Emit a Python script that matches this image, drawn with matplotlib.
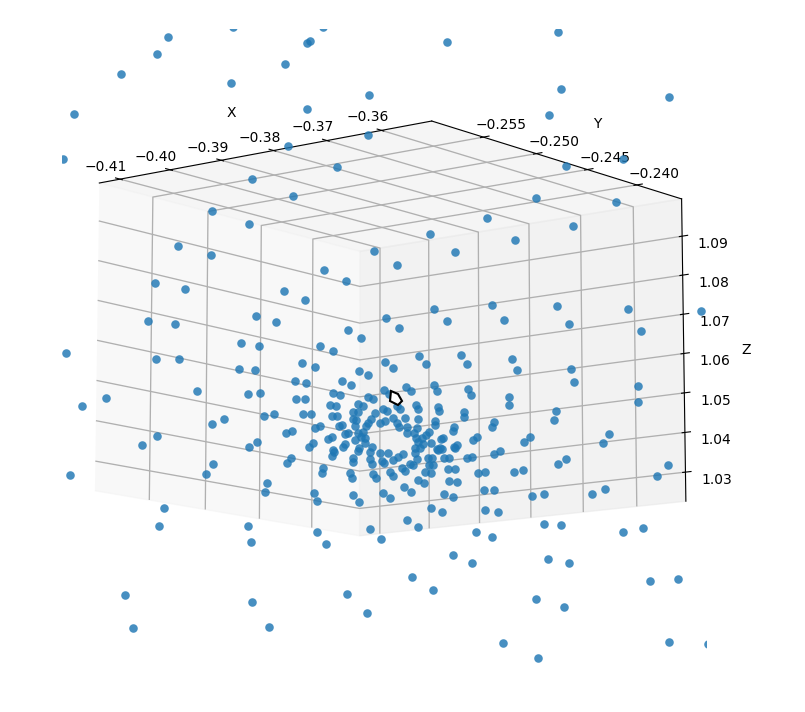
"""
3D scatter of points around a centre. Point positions are read off the picture
(image pixels), depth can't be read so they are lifted onto one plane in the box.
"""
import matplotlib
matplotlib.use("Agg")
import matplotlib.pyplot as plt
import numpy as np
from matplotlib.patches import Polygon, Rectangle
from matplotlib.transforms import IdentityTransform

x_ticks = [-0.41, -0.40, -0.39, -0.38, -0.37, -0.36]
y_ticks = [-0.255, -0.250, -0.245, -0.240]
z_ticks = [1.03, 1.04, 1.05, 1.06, 1.07, 1.08, 1.09]
x_range = (-0.4142, -0.3510)
y_range = (-0.2597, -0.2353)
z_range = (1.0227, 1.0996)

points_top = [
    (168, 37), (157, 54), (121, 74), (74, 114), (63, 159), (231, 83), (252, 179), (212, 211),
    (249, 224), (310, 41), (307, 43), (323, 27), (233, 27), (285, 64), (447, 42), (369, 95),
    (307, 109), (368, 135), (288, 146), (337, 167), (293, 196), (536, 198), (487, 218),
    (430, 234), (515, 240), (558, 32), (561, 89), (549, 115), (669, 97), (623, 159), (566, 166),
    (616, 202), (573, 226),
]
points_left = [
    (178, 246), (211, 255), (155, 283), (185, 289), (256, 316), (276, 322), (148, 321), (175, 324),
    (241, 343), (259, 346), (66, 353), (156, 359), (179, 359), (239, 369), (255, 370), (197, 391),
    (106, 398), (82, 406), (248, 394), (260, 393), (264, 416), (274, 414), (212, 424), (224, 419),
    (157, 436), (142, 445), (257, 442), (249, 447), (213, 464), (206, 474), (70, 475), (267, 483),
    (265, 492), (164, 508), (159, 526), (248, 526), (251, 542),
]
points_upper_mid = [
    (374, 251), (455, 252), (397, 265), (324, 270), (346, 281), (284, 291), (305, 300), (492, 305),
    (434, 309), (386, 318), (504, 320), (447, 321), (399, 328), (348, 330), (361, 338), (320, 346),
    (333, 351), (419, 356), (461, 355), (467, 364), (302, 363), (315, 367), (385, 362), (393, 368),
    (426, 364), (512, 359), (517, 370),
]
points_right = [
    (557, 306), (628, 309), (701, 311), (569, 324), (641, 331), (571, 369), (574, 382), (638, 386),
    (638, 402), (509, 397), (509, 405), (556, 411), (554, 420), (609, 434), (603, 443), (530, 437),
    (524, 442), (566, 459), (558, 464), (668, 465), (523, 470), (514, 472), (657, 476), (544, 494),
    (532, 496), (605, 489), (592, 494), (544, 524), (561, 525), (623, 532), (643, 528),
]
points_core_left = [
    (295, 381), (306, 383), (342, 381), (351, 385), (359, 371), (368, 375), (333, 393), (340, 395),
    (296, 399), (305, 399), (368, 397), (373, 399), (384, 390), (330, 405), (336, 406), (358, 404),
    (363, 406), (353, 412), (358, 412), (303, 414), (311, 414), (332, 416), (337, 416), (375, 413),
    (383, 409), (387, 411), (353, 419), (356, 420), (371, 419), (368, 423), (393, 418), (385, 421),
    (380, 423), (339, 426), (342, 425), (355, 426), (366, 426), (315, 428), (320, 426), (292, 431),
    (286, 433), (348, 433), (345, 434), (358, 433), (363, 432), (361, 437), (355, 440), (365, 438),
    (365, 443), (332, 437), (328, 439), (313, 443), (309, 447), (345, 444), (343, 447), (372, 447),
    (359, 448), (333, 450),
]
points_core_right = [
    (406, 387), (411, 391), (434, 385), (437, 391), (468, 389), (471, 395), (389, 394), (416, 405),
    (418, 409), (438, 407), (439, 411), (464, 412), (464, 417), (400, 409), (397, 406), (405, 418),
    (418, 419), (435, 421), (435, 425), (397, 423), (399, 427), (407, 427), (417, 428), (454, 427),
    (453, 431), (429, 432), (426, 435), (414, 433), (407, 433), (416, 438), (492, 427), (494, 422),
    (477, 437), (473, 440), (443, 438), (441, 439), (431, 443), (422, 438), (418, 442), (423, 444),
    (415, 448), (457, 445), (454, 447), (440, 448), (437, 449), (420, 448),
]
points_lower_mid = [
    (291, 458), (287, 463), (323, 468), (322, 473), (334, 452), (332, 456), (353, 458), (353, 462),
    (350, 473), (352, 478), (358, 451), (370, 452), (370, 459), (372, 464), (380, 453), (382, 461),
    (384, 463), (388, 453), (393, 460), (398, 457), (403, 454), (415, 453), (417, 459), (413, 465),
    (410, 464), (402, 468), (405, 471), (428, 458), (432, 458), (429, 465), (433, 465), (425, 472),
    (431, 473), (438, 450), (442, 449), (444, 458), (449, 458), (467, 458), (472, 457), (448, 469),
    (455, 469), (478, 473), (485, 472), (494, 454), (500, 451), (455, 448), (449, 481), (457, 482),
    (418, 480), (424, 483), (373, 474), (376, 478), (390, 472), (393, 476), (404, 487), (411, 492),
    (484, 490), (494, 490), (444, 494), (453, 497), (314, 493), (317, 501), (353, 495), (359, 502),
    (383, 493), (390, 498), (431, 508), (442, 512), (485, 510), (498, 512), (407, 520), (418, 527),
    (370, 529), (381, 539), (317, 532), (326, 544), (476, 532), (492, 537),
]
points_bottom = [
    (125, 595), (252, 602), (133, 628), (269, 627), (347, 594), (367, 613), (412, 577), (433, 590),
    (453, 555), (472, 563), (548, 559), (569, 563), (536, 599), (564, 607), (650, 581), (678, 579),
    (503, 643), (538, 658), (669, 642), (708, 644),
]
cursor_outline = [(391, 391), (398, 394), (402, 401), (398, 405), (390, 401)]

plt.rcParams["grid.linewidth"] = 0.95

W, H = 805, 712
fig = plt.figure(figsize=(W / 100, H / 100), dpi=100)
ax = fig.add_axes([-0.0236, 0.0056, 1, 1], projection="3d")
ax.patch.set_alpha(0)
ax.view_init(elev=-10.6, azim=-52)
ax.set_box_aspect((4, 4, 2.97), zoom=0.91)
ax.set_xlim(*x_range)
ax.set_ylim(*y_range)
ax.set_zlim(*z_range)
ax.set_xticks(x_ticks)
ax.set_yticks(y_ticks)
ax.set_zticks(z_ticks)
ax.tick_params(axis="both", pad=5.5)
ax.tick_params(axis="z", pad=6.5)
ax.set_xlabel("X", labelpad=6)
ax.set_ylabel("Y", labelpad=6)
ax.set_zlabel("Z", labelpad=8)
ax.set_autoscale_on(False)

# pixels -> 3D, on the plane through the middle of the box
fig.canvas.draw()
all_points = np.array(points_top + points_left + points_upper_mid + points_right
                      + points_core_left + points_core_right + points_lower_mid + points_bottom,
                      dtype=float)
display = np.column_stack((all_points[:, 0], H - all_points[:, 1]))
proj_xy = ax.transData.inverted().transform(display)
M = ax.get_proj()
centre = M @ np.array([np.mean(x_range), np.mean(y_range), np.mean(z_range), 1.0])
depth = centre[2] / centre[3]
lifted = np.linalg.inv(M) @ np.column_stack((proj_xy, np.full(len(proj_xy), depth), np.ones(len(proj_xy)))).T
lifted = lifted[:3] / lifted[3]

sc = ax.scatter(lifted[0], lifted[1], lifted[2], s=38, c="#1f77b4", alpha=0.82,
                linewidths=0, depthshade=False)
sc.set_clip_path(Rectangle((62, 0), 644, H - 29, transform=IdentityTransform()))

cursor = np.array(cursor_outline, dtype=float)
cursor[:, 1] = H - cursor[:, 1]
fig.add_artist(Polygon(cursor, closed=True, facecolor="white", edgecolor="black",
                       linewidth=1.5, transform=IdentityTransform(), zorder=10))

fig.savefig("out.png", dpi=100)
